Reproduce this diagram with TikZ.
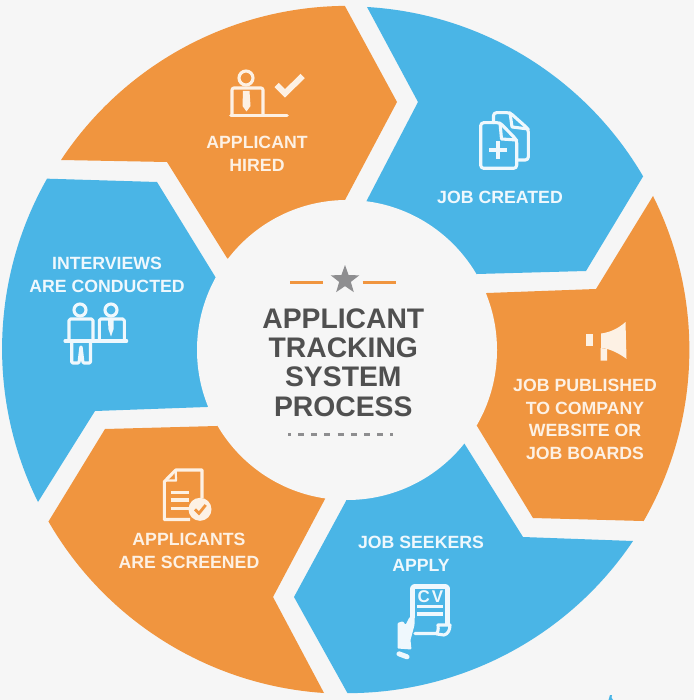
\documentclass[tikz,border=0pt]{standalone}
\usepackage{fontspec}
\setmainfont{Liberation Sans}
\usetikzlibrary{shapes.geometric}
\definecolor{paper}{HTML}{F6F6F6}
\definecolor{segOrange}{HTML}{F0953F}
\definecolor{segBlue}{HTML}{4AB5E6}
\definecolor{titleGray}{HTML}{505050}
\definecolor{starGray}{HTML}{8E8E90}
\definecolor{inkOrange}{HTML}{FDF1E4}
\definecolor{inkBlue}{HTML}{EFF8FD}
\tikzset{
	labelText/.style={align=center, font=\fontsize{17.7}{22.7}\selectfont\bfseries},
	onOrange/.style={labelText, text=inkOrange},
	onBlue/.style={labelText, text=inkBlue},
	iconLine/.style={line width=3.1pt, line join=round, line cap=round}
}
\tikzset{
	hiredIcon/.pic={
		\draw[iconLine, inkOrange] (0,0) circle (7pt);
		\draw[iconLine, inkOrange, rounded corners=2pt] (-14,37)--(-14,10)--(17,10)--(17,37);
		\draw[iconLine, inkOrange, line width=3.6pt] (-15,37.5)--(41,37.5);
		\fill[inkOrange] (-3,13)--(3.5,13)--(4.5,28)--(0.5,33.5)--(-3.5,28)--cycle;
		\draw[iconLine, inkOrange, line width=6pt, line cap=butt, line join=miter] (30.7,7)--(39,15.3)--(56.7,-2);
	}
}
\tikzset{
	docsIcon/.pic={
		\draw[iconLine, inkBlue, rounded corners=3pt] (2,-27.3)--(-17.3,-27.3)--(-17.3,18.3)--(18.7,18.3)--(18.7,-10)--cycle;
		\draw[iconLine, inkBlue] (2,-27)--(3.5,-11)--(18.7,-10);
		\draw[iconLine, inkBlue, rounded corners=3pt] (-4.5,-27.3)--(-4.5,-37.3)--(12,-37.3)--(30.3,-21)--(30.3,10)--(18.7,10);
		\draw[iconLine, inkBlue] (12,-37.3)--(14,-23)--(30.3,-21);
		\draw[iconLine, inkBlue, line cap=butt] (-8.7,0)--(8.7,0) (0,-8.7)--(0,8.7);
	}
}
\tikzset{
	megaphoneIcon/.pic={
		\fill[inkOrange] (1,-6.5) .. controls (10,-7.5) and (19,-12) .. (25.5,-18)--(26.5,18.8) .. controls (19,13.5) and (10,8.5) .. (1,8)--cycle;
		\fill[inkOrange] (-14,-6.5) rectangle (-7,5.5);
		\fill[inkOrange] (0.5,8)--(7,9)--(7,20.5)--(0.5,20.5)--cycle;
	}
}
\tikzset{
	screenIcon/.pic={
		\draw[iconLine, inkOrange, line cap=butt] (19,3.3)--(19,-25)--(-7.3,-25)--(-18.7,-13.3)--(-18.7,24.5)--(7,24.5);
		\draw[inkOrange, line width=2.2pt, line join=round] (-7.3,-25)--(-7,-14.5)--(-17,-14.5);
		\draw[iconLine, inkOrange, line cap=butt] (-12.3,-2.7)--(6,-2.7) (-12.3,5)--(6,5) (-12.3,13.3)--(6,13.3);
		\fill[inkOrange] (17,14.3) circle (11.5pt);
		\draw[segOrange, line width=2.8pt] (12,14.3)--(16,18.3)--(22.7,10);
	}
}
\tikzset{
	cvIcon/.pic={
		\node[font=\fontsize{17}{17}\selectfont\bfseries, text=inkBlue, inner sep=0pt] (cvMark) at (0.5,-13) {C\kern2pt V};
		\draw[iconLine, inkBlue, line width=4.8pt, line cap=butt, rounded corners=2pt] (-17.5,8)--(-17.5,-23.5)--(17.5,-23.5)--(17.5,14);
		\draw[iconLine, inkBlue, line cap=butt] (-13,-3.3)--(12.7,-3.3) (-13,4)--(12.7,4);
		\draw[iconLine, inkBlue] (-15,23.5)--(6.7,23.5) .. controls (9,20) and (8,17) .. (8,15)--(20,15) .. controls (20,20) and (18,24) .. (14,25)--(6.7,24);
		\fill[inkBlue, rounded corners=1pt] (-32.5,13)--(-27,11.2)--(-24.5,15)--(-20.5,7)--(-15.5,7)--(-15.5,15)--(-19.5,30)--(-18.5,39.5)--(-32.5,38.5)--cycle;
		\draw[inkBlue, line width=5pt, line cap=round] (-31,43.8)--(-23,46.8);
	}
}
\tikzset{
	interviewIcon/.pic={
		\draw[iconLine, inkBlue] (-17,-25) circle (6pt);
		\draw[iconLine, inkBlue] (14,-25) circle (6pt);
		\draw[iconLine, inkBlue, rounded corners=1.5pt] (-28,6)--(-28,-16)--(-4,-16)--(-4,6);
		\draw[iconLine, inkBlue, rounded corners=1pt] (-25.3,6)--(-25.3,28)--(-18,28)--(-16,11)--(-14,28)--(-6.5,28)--(-6.5,6);
		\draw[iconLine, inkBlue, rounded corners=1.5pt] (2.3,6)--(2.3,-16)--(27.3,-16)--(27.3,6);
		\draw[iconLine, inkBlue] (-32,6)--(29.7,6);
		\fill[inkBlue] (11,-15)--(16.6,-15)--(16.6,-6)--(14,1.5)--(11.4,-6)--cycle;
	}
}

\begin{document}
\begin{tikzpicture}[x=1pt,y=-1pt]
	\fill[paper] (0,0) rectangle (694,700);
	\useasboundingbox (0,0) rectangle (694,700);
	% segments, clockwise from the top
	\fill[segBlue] (367,7) arc[start angle=86.65, end angle=30.3, radius=343pt] --(586,271)--(477,274)--(347,350)--(366,202)--(418,102)--cycle;
	\fill[segOrange] (653,196) arc[start angle=26.6, end angle=-29.9, radius=343.5pt] --(533,518)--(477,426)--(347,350)--(487,293)--(596,289)--cycle;
	\fill[segBlue] (633,541) arc[start angle=-33.9, end angle=-90, radius=344pt] --(294,597)--(346,501)--(347,350)--(464,443)--(523,537)--cycle;
	\fill[segOrange] (324,693) arc[start angle=-93.8, end angle=-150, radius=344.5pt] --(105,429)--(217,426)--(347,350)--(325,499)--(273,597)--cycle;
	\fill[segBlue] (38,502) arc[start angle=-153.6, end angle=-209.6, radius=344.5pt] --(157,182)--(216,278)--(347,350)--(207,407)--(95,411)--cycle;
	\fill[segOrange] (61,160) arc[start angle=146.5, end angle=90.5, radius=344pt] --(397,102)--(345,200)--(347,350)--(227,258)--(167,162)--cycle;
	\fill[segBlue] (608.5,700)--(610,695)--(612,695)--(611.5,697.5)--(613,700)--cycle;
	% centre
	\node[circle, fill=paper, minimum size=300pt, inner sep=0pt] (hub) at (347,350) {};
	\node[star, star points=5, star point ratio=2.45, fill=starGray, minimum size=30pt, inner sep=0pt] (hubStar) at (345,280) {};
	\draw[segOrange, line width=3.5pt] (290,282.3)--(322.7,282.3);
	\draw[segOrange, line width=3.5pt] (362.7,282.3)--(395.7,282.3);
	\node[align=center, text=titleGray, font=\fontsize{28.3}{29.3}\selectfont\bfseries] (hubTitle) at (343.3,362.5) {APPLICANT\\TRACKING\\SYSTEM\\PROCESS};
	\draw[starGray, line width=3.2pt, dash pattern=on 6pt off 7.2pt, dash phase=3.5pt] (288.3,434.3)--(392.7,434.3);
	% labels
	\node[onOrange] (hiredLabel) at (257,154) {APPLICANT\\HIRED};
	\node[onBlue] (createdLabel) at (500,197.5) {JOB CREATED};
	\node[onOrange] (publishedLabel) at (585,419.3) {JOB PUBLISHED\\TO COMPANY\\WEBSITE OR\\JOB BOARDS};
	\node[onBlue] (applyLabel) at (421,554) {JOB SEEKERS\\APPLY};
	\node[onOrange] (screenedLabel) at (189,551) {APPLICANTS\\ARE SCREENED};
	\node[onBlue] (interviewLabel) at (107,275) {INTERVIEWS\\ARE CONDUCTED};
	% icons
	\pic at (246,78) {hiredIcon};
	\pic at (498,150) {docsIcon};
	\pic at (600,340) {megaphoneIcon};
	\pic at (430,610) {cvIcon};
	\pic at (183,495) {screenIcon};
	\pic at (97,335) {interviewIcon};
\end{tikzpicture}
\end{document}
